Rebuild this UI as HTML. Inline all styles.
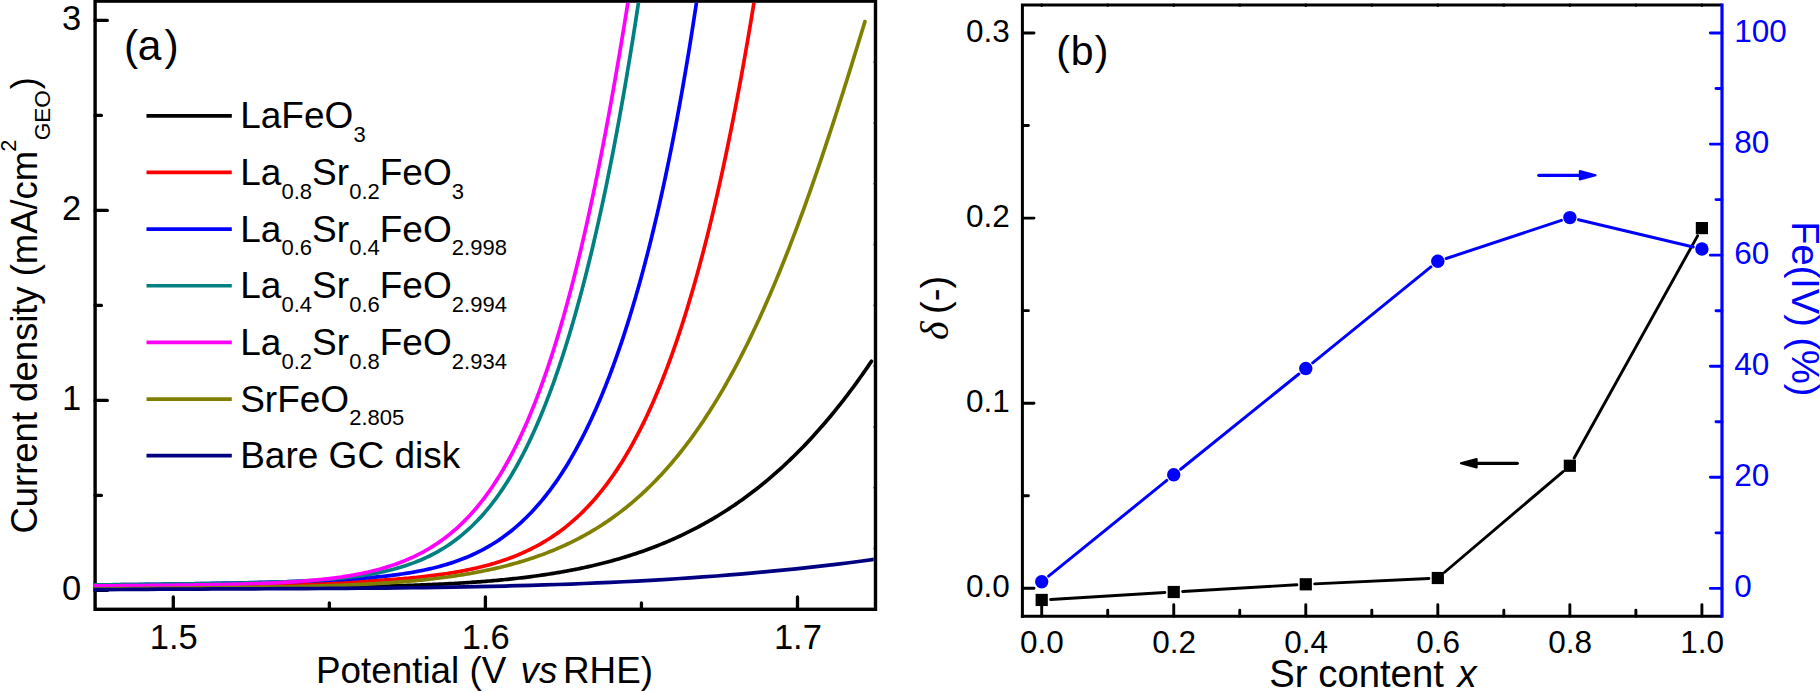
<!DOCTYPE html>
<html lang="en"><head><meta charset="utf-8"><title>Figure</title>
<style>html,body{margin:0;padding:0;background:#fff;overflow:hidden}body{width:1820px;height:692px;position:relative}</style></head>
<body>
<svg width="1820" height="692" viewBox="0 0 1820 692" style="display:block;position:absolute;left:0;top:0">
<rect width="1820" height="692" fill="#fff"/>
<defs><clipPath id="ca"><rect x="93.5" y="2.8" width="780.3" height="604.8"/></clipPath></defs>
<g font-family="'Liberation Sans', sans-serif" fill="#000">
<g stroke="#000" fill="none">
<rect x="95.1" y="1.1" width="780.4" height="608.1999999999999" stroke-width="3.4"/>
<path d="M173.3 609.3v-12.4M485.4 609.3v-12.4M797.5 609.3v-12.4M329.35 609.3v-6.3M641.45 609.3v-6.3M95.1 590.4h12.2M95.1 400.4h12.2M95.1 210.4h12.2M95.1 20.4h12.2M95.1 495.4h6.3M95.1 305.4h6.3M95.1 115.4h6.3" stroke-width="3.3" stroke-linecap="round"/>
<path d="M875.5 62.19h-0.9M875.5 122.98h-0.9M875.5 183.77h-0.9M875.5 244.56h-0.9M875.5 305.35h-0.9M875.5 366.14h-0.9M875.5 426.93h-0.9M875.5 487.72h-0.9M875.5 548.51h-0.9" stroke-width="2.2" stroke-linecap="round"/>
</g>
<g clip-path="url(#ca)" fill="none" stroke-width="3.7" stroke-linejoin="round" stroke-linecap="round">
<path d="M93.5 589.14L95.5 589.12L97.5 589.11L99.5 589.09L101.5 589.08L103.5 589.06L105.5 589.05L107.5 589.03L109.5 589.02L111.5 589L113.5 588.99L115.5 588.97L117.5 588.96L119.5 588.95L121.5 588.93L123.5 588.92L125.5 588.9L127.5 588.89L129.5 588.87L131.5 588.86L133.5 588.84L135.5 588.83L137.5 588.81L139.5 588.8L141.5 588.78L143.5 588.77L145.5 588.75L147.5 588.74L149.5 588.73L151.5 588.71L153.5 588.7L155.5 588.68L157.5 588.67L159.5 588.65L161.5 588.64L163.5 588.62L165.5 588.61L167.5 588.59L169.5 588.58L171.5 588.56L173.5 588.55L175.5 588.53L177.5 588.52L179.5 588.5L181.5 588.49L183.5 588.47L185.5 588.46L187.5 588.44L189.5 588.43L191.5 588.41L193.5 588.4L195.5 588.38L197.5 588.37L199.5 588.35L201.5 588.34L203.5 588.32L205.5 588.31L207.5 588.29L209.5 588.28L211.5 588.26L213.5 588.25L215.5 588.23L217.5 588.21L219.5 588.2L221.5 588.18L223.5 588.17L225.5 588.15L227.5 588.14L229.5 588.12L231.5 588.1L233.5 588.09L235.5 588.07L237.5 588.06L239.5 588.04L241.5 588.02L243.5 588.01L245.5 587.99L247.5 587.97L249.5 587.96L251.5 587.94L253.5 587.92L255.5 587.91L257.5 587.89L259.5 587.87L261.5 587.85L263.5 587.84L265.5 587.82L267.5 587.8L269.5 587.78L271.5 587.76L273.5 587.75L275.5 587.73L277.5 587.71L279.5 587.69L281.5 587.67L283.5 587.65L285.5 587.63L287.5 587.61L289.5 587.59L291.5 587.57L293.5 587.55L295.5 587.53L297.5 587.51L299.5 587.49L301.5 587.46L303.5 587.44L305.5 587.42L307.5 587.4L309.5 587.37L311.5 587.35L313.5 587.33L315.5 587.3L317.5 587.28L319.5 587.25L321.5 587.23L323.5 587.2L325.5 587.18L327.5 587.15L329.5 587.12L331.5 587.09L333.5 587.07L335.5 587.04L337.5 587.01L339.5 586.98L341.5 586.95L343.5 586.92L345.5 586.88L347.5 586.85L349.5 586.82L351.5 586.78L353.5 586.75L355.5 586.71L357.5 586.68L359.5 586.64L361.5 586.6L363.5 586.56L365.5 586.53L367.5 586.49L369.5 586.44L371.5 586.4L373.5 586.36L375.5 586.32L377.5 586.27L379.5 586.22L381.5 586.18L383.5 586.13L385.5 586.08L387.5 586.03L389.5 585.98L391.5 585.92L393.5 585.87L395.5 585.82L397.5 585.76L399.5 585.7L401.5 585.64L403.5 585.58L405.5 585.52L407.5 585.45L409.5 585.39L411.5 585.32L413.5 585.25L415.5 585.18L417.5 585.11L419.5 585.04L421.5 584.96L423.5 584.88L425.5 584.8L427.5 584.72L429.5 584.64L431.5 584.56L433.5 584.47L435.5 584.38L437.5 584.29L439.5 584.19L441.5 584.1L443.5 584L445.5 583.9L447.5 583.8L449.5 583.69L451.5 583.59L453.5 583.48L455.5 583.36L457.5 583.25L459.5 583.13L461.5 583.01L463.5 582.88L465.5 582.76L467.5 582.63L469.5 582.5L471.5 582.36L473.5 582.22L475.5 582.08L477.5 581.94L479.5 581.79L481.5 581.64L483.5 581.48L485.5 581.32L487.5 581.16L489.5 580.99L491.5 580.83L493.5 580.65L495.5 580.48L497.5 580.29L499.5 580.11L501.5 579.92L503.5 579.73L505.5 579.53L507.5 579.33L509.5 579.12L511.5 578.91L513.5 578.7L515.5 578.48L517.5 578.26L519.5 578.03L521.5 577.79L523.5 577.56L525.5 577.31L527.5 577.07L529.5 576.81L531.5 576.55L533.5 576.29L535.5 576.02L537.5 575.75L539.5 575.47L541.5 575.18L543.5 574.89L545.5 574.59L547.5 574.29L549.5 573.98L551.5 573.67L553.5 573.35L555.5 573.02L557.5 572.69L559.5 572.35L561.5 572L563.5 571.65L565.5 571.29L567.5 570.92L569.5 570.55L571.5 570.17L573.5 569.78L575.5 569.39L577.5 568.98L579.5 568.58L581.5 568.16L583.5 567.73L585.5 567.3L587.5 566.86L589.5 566.41L591.5 565.96L593.5 565.5L595.5 565.02L597.5 564.54L599.5 564.05L601.5 563.56L603.5 563.05L605.5 562.54L607.5 562.01L609.5 561.48L611.5 560.94L613.5 560.39L615.5 559.83L617.5 559.26L619.5 558.68L621.5 558.09L623.5 557.49L625.5 556.88L627.5 556.26L629.5 555.64L631.5 555L633.5 554.35L635.5 553.69L637.5 553.02L639.5 552.34L641.5 551.64L643.5 550.94L645.5 550.23L647.5 549.5L649.5 548.76L651.5 548.01L653.5 547.25L655.5 546.48L657.5 545.7L659.5 544.9L661.5 544.1L663.5 543.27L665.5 542.44L667.5 541.6L669.5 540.74L671.5 539.87L673.5 538.98L675.5 538.09L677.5 537.18L679.5 536.25L681.5 535.32L683.5 534.36L685.5 533.4L687.5 532.42L689.5 531.43L691.5 530.42L693.5 529.4L695.5 528.36L697.5 527.31L699.5 526.25L701.5 525.17L703.5 524.07L705.5 522.96L707.5 521.83L709.5 520.69L711.5 519.53L713.5 518.36L715.5 517.17L717.5 515.96L719.5 514.74L721.5 513.5L723.5 512.25L725.5 510.97L727.5 509.68L729.5 508.38L731.5 507.05L733.5 505.71L735.5 504.35L737.5 502.97L739.5 501.58L741.5 500.17L743.5 498.73L745.5 497.28L747.5 495.82L749.5 494.33L751.5 492.82L753.5 491.3L755.5 489.75L757.5 488.19L759.5 486.6L761.5 485L763.5 483.38L765.5 481.73L767.5 480.07L769.5 478.38L771.5 476.68L773.5 474.95L775.5 473.2L777.5 471.43L779.5 469.65L781.5 467.83L783.5 466L785.5 464.15L787.5 462.27L789.5 460.37L791.5 458.45L793.5 456.5L795.5 454.54L797.5 452.55L799.5 450.53L801.5 448.5L803.5 446.44L805.5 444.35L807.5 442.24L809.5 440.11L811.5 437.96L813.5 435.78L815.5 433.57L817.5 431.34L819.5 429.09L821.5 426.81L823.5 424.51L825.5 422.18L827.5 419.82L829.5 417.44L831.5 415.03L833.5 412.6L835.5 410.14L837.5 407.65L839.5 405.14L841.5 402.6L843.5 400.03L845.5 397.44L847.5 394.82L849.5 392.17L851.5 389.5L853.5 386.79L855.5 384.06L857.5 381.3L859.5 378.51L861.5 375.7L863.5 372.85L865.5 369.98L867.5 367.08L869.5 364.14L871.5 361.18" stroke="#000000"/>
<path d="M93.5 587.02L95.5 587.03L97.5 587.03L99.5 587.04L101.5 587.04L103.5 587.04L105.5 587.04L107.5 587.04L109.5 587.03L111.5 587.03L113.5 587.02L115.5 587.01L117.5 587L119.5 586.99L121.5 586.98L123.5 586.96L125.5 586.95L127.5 586.93L129.5 586.92L131.5 586.9L133.5 586.88L135.5 586.87L137.5 586.85L139.5 586.83L141.5 586.81L143.5 586.78L145.5 586.76L147.5 586.74L149.5 586.72L151.5 586.69L153.5 586.67L155.5 586.64L157.5 586.62L159.5 586.59L161.5 586.57L163.5 586.54L165.5 586.51L167.5 586.48L169.5 586.46L171.5 586.43L173.5 586.4L175.5 586.37L177.5 586.34L179.5 586.31L181.5 586.28L183.5 586.25L185.5 586.22L187.5 586.19L189.5 586.15L191.5 586.12L193.5 586.09L195.5 586.06L197.5 586.02L199.5 585.99L201.5 585.95L203.5 585.92L205.5 585.89L207.5 585.85L209.5 585.82L211.5 585.78L213.5 585.74L215.5 585.71L217.5 585.67L219.5 585.63L221.5 585.6L223.5 585.56L225.5 585.52L227.5 585.48L229.5 585.44L231.5 585.4L233.5 585.36L235.5 585.32L237.5 585.28L239.5 585.24L241.5 585.2L243.5 585.16L245.5 585.12L247.5 585.07L249.5 585.03L251.5 584.99L253.5 584.94L255.5 584.9L257.5 584.85L259.5 584.81L261.5 584.76L263.5 584.72L265.5 584.67L267.5 584.62L269.5 584.58L271.5 584.53L273.5 584.48L275.5 584.43L277.5 584.38L279.5 584.33L281.5 584.28L283.5 584.22L285.5 584.17L287.5 584.12L289.5 584.06L291.5 584.01L293.5 583.95L295.5 583.9L297.5 583.84L299.5 583.78L301.5 583.72L303.5 583.66L305.5 583.6L307.5 583.54L309.5 583.48L311.5 583.41L313.5 583.35L315.5 583.28L317.5 583.21L319.5 583.15L321.5 583.08L323.5 583.01L325.5 582.94L327.5 582.86L329.5 582.79L331.5 582.71L333.5 582.64L335.5 582.56L337.5 582.48L339.5 582.4L341.5 582.31L343.5 582.23L345.5 582.14L347.5 582.05L349.5 581.96L351.5 581.87L353.5 581.78L355.5 581.68L357.5 581.58L359.5 581.48L361.5 581.38L363.5 581.28L365.5 581.17L367.5 581.06L369.5 580.95L371.5 580.84L373.5 580.72L375.5 580.6L377.5 580.48L379.5 580.35L381.5 580.22L383.5 580.09L385.5 579.96L387.5 579.82L389.5 579.68L391.5 579.53L393.5 579.39L395.5 579.23L397.5 579.08L399.5 578.92L401.5 578.75L403.5 578.59L405.5 578.41L407.5 578.24L409.5 578.05L411.5 577.87L413.5 577.68L415.5 577.48L417.5 577.28L419.5 577.07L421.5 576.86L423.5 576.64L425.5 576.41L427.5 576.18L429.5 575.94L431.5 575.7L433.5 575.45L435.5 575.19L437.5 574.93L439.5 574.66L441.5 574.38L443.5 574.09L445.5 573.79L447.5 573.49L449.5 573.18L451.5 572.86L453.5 572.52L455.5 572.19L457.5 571.84L459.5 571.48L461.5 571.11L463.5 570.73L465.5 570.34L467.5 569.93L469.5 569.52L471.5 569.09L473.5 568.66L475.5 568.2L477.5 567.74L479.5 567.26L481.5 566.77L483.5 566.27L485.5 565.75L487.5 565.22L489.5 564.67L491.5 564.1L493.5 563.52L495.5 562.93L497.5 562.31L499.5 561.68L501.5 561.03L503.5 560.36L505.5 559.67L507.5 558.96L509.5 558.24L511.5 557.49L513.5 556.72L515.5 555.93L517.5 555.11L519.5 554.28L521.5 553.42L523.5 552.53L525.5 551.62L527.5 550.69L529.5 549.73L531.5 548.74L533.5 547.72L535.5 546.68L537.5 545.61L539.5 544.51L541.5 543.37L543.5 542.21L545.5 541.01L547.5 539.79L549.5 538.52L551.5 537.23L553.5 535.9L555.5 534.53L557.5 533.12L559.5 531.68L561.5 530.2L563.5 528.68L565.5 527.12L567.5 525.52L569.5 523.87L571.5 522.19L573.5 520.45L575.5 518.67L577.5 516.85L579.5 514.98L581.5 513.06L583.5 511.09L585.5 509.07L587.5 506.99L589.5 504.87L591.5 502.69L593.5 500.45L595.5 498.16L597.5 495.81L599.5 493.4L601.5 490.93L603.5 488.4L605.5 485.81L607.5 483.16L609.5 480.43L611.5 477.65L613.5 474.79L615.5 471.87L617.5 468.87L619.5 465.8L621.5 462.66L623.5 459.44L625.5 456.15L627.5 452.78L629.5 449.33L631.5 445.8L633.5 442.19L635.5 438.49L637.5 434.71L639.5 430.84L641.5 426.88L643.5 422.84L645.5 418.7L647.5 414.47L649.5 410.14L651.5 405.71L653.5 401.19L655.5 396.57L657.5 391.84L659.5 387.01L661.5 382.08L663.5 377.04L665.5 371.89L667.5 366.63L669.5 361.25L671.5 355.76L673.5 350.16L675.5 344.44L677.5 338.59L679.5 332.63L681.5 326.53L683.5 320.32L685.5 313.97L687.5 307.5L689.5 300.89L691.5 294.14L693.5 287.26L695.5 280.25L697.5 273.09L699.5 265.78L701.5 258.33L703.5 250.74L705.5 242.99L707.5 235.09L709.5 227.04L711.5 218.83L713.5 210.46L715.5 201.93L717.5 193.23L719.5 184.37L721.5 175.34L723.5 166.13L725.5 156.76L727.5 147.2L729.5 137.46L731.5 127.55L733.5 117.44L735.5 107.15L737.5 96.67L739.5 85.99L741.5 75.12L743.5 64.04L745.5 52.77L747.5 41.28L749.5 29.59L751.5 17.68L753.5 5.56L755.5 -6.78" stroke="#ff0000"/>
<path d="M93.5 584.82L95.5 584.82L97.5 584.83L99.5 584.83L101.5 584.83L103.5 584.82L105.5 584.82L107.5 584.81L109.5 584.8L111.5 584.79L113.5 584.78L115.5 584.77L117.5 584.75L119.5 584.74L121.5 584.72L123.5 584.7L125.5 584.68L127.5 584.67L129.5 584.65L131.5 584.63L133.5 584.6L135.5 584.58L137.5 584.56L139.5 584.54L141.5 584.51L143.5 584.49L145.5 584.46L147.5 584.44L149.5 584.41L151.5 584.39L153.5 584.36L155.5 584.33L157.5 584.3L159.5 584.28L161.5 584.25L163.5 584.22L165.5 584.19L167.5 584.16L169.5 584.13L171.5 584.1L173.5 584.07L175.5 584.04L177.5 584.01L179.5 583.98L181.5 583.95L183.5 583.92L185.5 583.88L187.5 583.85L189.5 583.82L191.5 583.79L193.5 583.75L195.5 583.72L197.5 583.69L199.5 583.65L201.5 583.62L203.5 583.58L205.5 583.55L207.5 583.51L209.5 583.48L211.5 583.44L213.5 583.4L215.5 583.37L217.5 583.33L219.5 583.29L221.5 583.26L223.5 583.22L225.5 583.18L227.5 583.14L229.5 583.1L231.5 583.06L233.5 583.02L235.5 582.98L237.5 582.94L239.5 582.9L241.5 582.86L243.5 582.82L245.5 582.77L247.5 582.73L249.5 582.69L251.5 582.64L253.5 582.6L255.5 582.55L257.5 582.51L259.5 582.46L261.5 582.41L263.5 582.37L265.5 582.32L267.5 582.27L269.5 582.22L271.5 582.17L273.5 582.12L275.5 582.06L277.5 582.01L279.5 581.96L281.5 581.9L283.5 581.84L285.5 581.79L287.5 581.73L289.5 581.67L291.5 581.61L293.5 581.55L295.5 581.48L297.5 581.42L299.5 581.35L301.5 581.29L303.5 581.22L305.5 581.15L307.5 581.08L309.5 581L311.5 580.93L313.5 580.85L315.5 580.77L317.5 580.69L319.5 580.61L321.5 580.53L323.5 580.44L325.5 580.35L327.5 580.26L329.5 580.17L331.5 580.07L333.5 579.97L335.5 579.87L337.5 579.77L339.5 579.66L341.5 579.55L343.5 579.43L345.5 579.32L347.5 579.2L349.5 579.07L351.5 578.95L353.5 578.81L355.5 578.68L357.5 578.54L359.5 578.4L361.5 578.25L363.5 578.09L365.5 577.94L367.5 577.77L369.5 577.61L371.5 577.43L373.5 577.25L375.5 577.07L377.5 576.88L379.5 576.68L381.5 576.48L383.5 576.27L385.5 576.05L387.5 575.83L389.5 575.6L391.5 575.36L393.5 575.11L395.5 574.85L397.5 574.59L399.5 574.32L401.5 574.03L403.5 573.74L405.5 573.44L407.5 573.13L409.5 572.81L411.5 572.47L413.5 572.13L415.5 571.77L417.5 571.41L419.5 571.03L421.5 570.63L423.5 570.23L425.5 569.81L427.5 569.37L429.5 568.92L431.5 568.46L433.5 567.98L435.5 567.48L437.5 566.97L439.5 566.44L441.5 565.9L443.5 565.33L445.5 564.75L447.5 564.14L449.5 563.52L451.5 562.88L453.5 562.22L455.5 561.53L457.5 560.82L459.5 560.09L461.5 559.34L463.5 558.56L465.5 557.76L467.5 556.93L469.5 556.08L471.5 555.2L473.5 554.29L475.5 553.35L477.5 552.38L479.5 551.39L481.5 550.36L483.5 549.3L485.5 548.21L487.5 547.09L489.5 545.93L491.5 544.74L493.5 543.51L495.5 542.24L497.5 540.94L499.5 539.6L501.5 538.22L503.5 536.8L505.5 535.34L507.5 533.84L509.5 532.29L511.5 530.71L513.5 529.07L515.5 527.39L517.5 525.67L519.5 523.89L521.5 522.07L523.5 520.2L525.5 518.27L527.5 516.3L529.5 514.27L531.5 512.19L533.5 510.05L535.5 507.85L537.5 505.6L539.5 503.29L541.5 500.92L543.5 498.49L545.5 496L547.5 493.45L549.5 490.83L551.5 488.14L553.5 485.39L555.5 482.57L557.5 479.68L559.5 476.72L561.5 473.69L563.5 470.59L565.5 467.41L567.5 464.16L569.5 460.83L571.5 457.42L573.5 453.93L575.5 450.36L577.5 446.71L579.5 442.97L581.5 439.15L583.5 435.24L585.5 431.25L587.5 427.16L589.5 422.98L591.5 418.71L593.5 414.35L595.5 409.89L597.5 405.33L599.5 400.67L601.5 395.91L603.5 391.05L605.5 386.08L607.5 381L609.5 375.82L611.5 370.52L613.5 365.12L615.5 359.59L617.5 353.95L619.5 348.2L621.5 342.32L623.5 336.31L625.5 330.18L627.5 323.92L629.5 317.53L631.5 311L633.5 304.34L635.5 297.54L637.5 290.6L639.5 283.51L641.5 276.27L643.5 268.88L645.5 261.33L647.5 253.63L649.5 245.76L651.5 237.73L653.5 229.53L655.5 221.15L657.5 212.59L659.5 203.85L661.5 194.93L663.5 185.81L665.5 176.5L667.5 166.98L669.5 157.25L671.5 147.32L673.5 137.16L675.5 126.78L677.5 116.16L679.5 105.31L681.5 94.22L683.5 82.87L685.5 71.26L687.5 59.39L689.5 47.24L691.5 34.8L693.5 22.08L695.5 9.05L697.5 -4.29" stroke="#0000ff"/>
<path d="M93.5 584.89L95.5 584.87L97.5 584.85L99.5 584.84L101.5 584.82L103.5 584.8L105.5 584.78L107.5 584.77L109.5 584.75L111.5 584.73L113.5 584.71L115.5 584.69L117.5 584.68L119.5 584.66L121.5 584.64L123.5 584.62L125.5 584.6L127.5 584.58L129.5 584.56L131.5 584.54L133.5 584.52L135.5 584.5L137.5 584.48L139.5 584.46L141.5 584.44L143.5 584.42L145.5 584.4L147.5 584.38L149.5 584.35L151.5 584.33L153.5 584.31L155.5 584.29L157.5 584.27L159.5 584.24L161.5 584.22L163.5 584.2L165.5 584.18L167.5 584.15L169.5 584.13L171.5 584.1L173.5 584.08L175.5 584.06L177.5 584.03L179.5 584.01L181.5 583.98L183.5 583.96L185.5 583.93L187.5 583.9L189.5 583.88L191.5 583.85L193.5 583.82L195.5 583.8L197.5 583.77L199.5 583.74L201.5 583.71L203.5 583.68L205.5 583.65L207.5 583.62L209.5 583.59L211.5 583.56L213.5 583.53L215.5 583.5L217.5 583.46L219.5 583.43L221.5 583.4L223.5 583.36L225.5 583.33L227.5 583.29L229.5 583.25L231.5 583.22L233.5 583.18L235.5 583.14L237.5 583.1L239.5 583.06L241.5 583.01L243.5 582.97L245.5 582.93L247.5 582.88L249.5 582.84L251.5 582.79L253.5 582.74L255.5 582.69L257.5 582.64L259.5 582.58L261.5 582.53L263.5 582.48L265.5 582.42L267.5 582.36L269.5 582.3L271.5 582.24L273.5 582.17L275.5 582.11L277.5 582.04L279.5 581.97L281.5 581.9L283.5 581.82L285.5 581.74L287.5 581.66L289.5 581.58L291.5 581.5L293.5 581.41L295.5 581.32L297.5 581.23L299.5 581.13L301.5 581.03L303.5 580.93L305.5 580.82L307.5 580.71L309.5 580.6L311.5 580.48L313.5 580.35L315.5 580.23L317.5 580.1L319.5 579.96L321.5 579.82L323.5 579.67L325.5 579.52L327.5 579.37L329.5 579.2L331.5 579.04L333.5 578.86L335.5 578.68L337.5 578.49L339.5 578.3L341.5 578.1L343.5 577.89L345.5 577.67L347.5 577.45L349.5 577.21L351.5 576.97L353.5 576.72L355.5 576.46L357.5 576.19L359.5 575.91L361.5 575.62L363.5 575.32L365.5 575.01L367.5 574.68L369.5 574.35L371.5 574L373.5 573.64L375.5 573.26L377.5 572.87L379.5 572.47L381.5 572.05L383.5 571.62L385.5 571.17L387.5 570.7L389.5 570.22L391.5 569.72L393.5 569.2L395.5 568.67L397.5 568.11L399.5 567.53L401.5 566.94L403.5 566.32L405.5 565.68L407.5 565.01L409.5 564.33L411.5 563.62L413.5 562.88L415.5 562.12L417.5 561.33L419.5 560.51L421.5 559.67L423.5 558.79L425.5 557.89L427.5 556.95L429.5 555.99L431.5 554.99L433.5 553.95L435.5 552.88L437.5 551.78L439.5 550.64L441.5 549.46L443.5 548.24L445.5 546.99L447.5 545.69L449.5 544.35L451.5 542.96L453.5 541.54L455.5 540.06L457.5 538.54L459.5 536.97L461.5 535.36L463.5 533.69L465.5 531.97L467.5 530.19L469.5 528.37L471.5 526.48L473.5 524.54L475.5 522.55L477.5 520.49L479.5 518.37L481.5 516.19L483.5 513.94L485.5 511.63L487.5 509.25L489.5 506.81L491.5 504.29L493.5 501.7L495.5 499.04L497.5 496.31L499.5 493.5L501.5 490.61L503.5 487.64L505.5 484.59L507.5 481.46L509.5 478.25L511.5 474.95L513.5 471.56L515.5 468.09L517.5 464.52L519.5 460.86L521.5 457.11L523.5 453.26L525.5 449.31L527.5 445.26L529.5 441.12L531.5 436.87L533.5 432.51L535.5 428.05L537.5 423.48L539.5 418.8L541.5 414.01L543.5 409.1L545.5 404.08L547.5 398.94L549.5 393.68L551.5 388.3L553.5 382.8L555.5 377.17L557.5 371.41L559.5 365.52L561.5 359.5L563.5 353.35L565.5 347.06L567.5 340.64L569.5 334.07L571.5 327.36L573.5 320.51L575.5 313.51L577.5 306.36L579.5 299.06L581.5 291.61L583.5 284L585.5 276.23L587.5 268.3L589.5 260.21L591.5 251.95L593.5 243.52L595.5 234.92L597.5 226.15L599.5 217.2L601.5 208.07L603.5 198.76L605.5 189.26L607.5 179.57L609.5 169.69L611.5 159.61L613.5 149.34L615.5 138.86L617.5 128.18L619.5 117.29L621.5 106.18L623.5 94.86L625.5 83.32L627.5 71.54L629.5 59.54L631.5 47.31L633.5 34.84L635.5 22.12L637.5 9.15L639.5 -4.07" stroke="#008080"/>
<path d="M93.5 585.93L95.5 585.92L97.5 585.9L99.5 585.89L101.5 585.87L103.5 585.85L105.5 585.84L107.5 585.82L109.5 585.81L111.5 585.79L113.5 585.78L115.5 585.76L117.5 585.74L119.5 585.73L121.5 585.71L123.5 585.7L125.5 585.68L127.5 585.66L129.5 585.65L131.5 585.63L133.5 585.61L135.5 585.6L137.5 585.58L139.5 585.56L141.5 585.54L143.5 585.53L145.5 585.51L147.5 585.49L149.5 585.47L151.5 585.45L153.5 585.43L155.5 585.42L157.5 585.4L159.5 585.38L161.5 585.36L163.5 585.34L165.5 585.32L167.5 585.3L169.5 585.27L171.5 585.25L173.5 585.23L175.5 585.21L177.5 585.19L179.5 585.16L181.5 585.14L183.5 585.11L185.5 585.09L187.5 585.06L189.5 585.04L191.5 585.01L193.5 584.99L195.5 584.96L197.5 584.93L199.5 584.9L201.5 584.87L203.5 584.84L205.5 584.81L207.5 584.78L209.5 584.74L211.5 584.71L213.5 584.67L215.5 584.64L217.5 584.6L219.5 584.56L221.5 584.52L223.5 584.48L225.5 584.44L227.5 584.4L229.5 584.36L231.5 584.31L233.5 584.26L235.5 584.22L237.5 584.17L239.5 584.11L241.5 584.06L243.5 584.01L245.5 583.95L247.5 583.89L249.5 583.83L251.5 583.77L253.5 583.7L255.5 583.64L257.5 583.57L259.5 583.5L261.5 583.42L263.5 583.35L265.5 583.27L267.5 583.19L269.5 583.1L271.5 583.01L273.5 582.92L275.5 582.83L277.5 582.73L279.5 582.63L281.5 582.53L283.5 582.42L285.5 582.31L287.5 582.2L289.5 582.08L291.5 581.95L293.5 581.83L295.5 581.69L297.5 581.56L299.5 581.42L301.5 581.27L303.5 581.12L305.5 580.96L307.5 580.8L309.5 580.63L311.5 580.46L313.5 580.28L315.5 580.09L317.5 579.9L319.5 579.7L321.5 579.5L323.5 579.28L325.5 579.06L327.5 578.83L329.5 578.6L331.5 578.35L333.5 578.1L335.5 577.84L337.5 577.57L339.5 577.29L341.5 577L343.5 576.7L345.5 576.39L347.5 576.07L349.5 575.74L351.5 575.4L353.5 575.05L355.5 574.68L357.5 574.3L359.5 573.91L361.5 573.51L363.5 573.09L365.5 572.66L367.5 572.22L369.5 571.76L371.5 571.28L373.5 570.79L375.5 570.29L377.5 569.76L379.5 569.22L381.5 568.66L383.5 568.09L385.5 567.49L387.5 566.88L389.5 566.24L391.5 565.59L393.5 564.91L395.5 564.21L397.5 563.49L399.5 562.75L401.5 561.98L403.5 561.19L405.5 560.37L407.5 559.53L409.5 558.66L411.5 557.77L413.5 556.84L415.5 555.89L417.5 554.9L419.5 553.89L421.5 552.84L423.5 551.76L425.5 550.65L427.5 549.51L429.5 548.33L431.5 547.11L433.5 545.86L435.5 544.56L437.5 543.23L439.5 541.86L441.5 540.45L443.5 538.99L445.5 537.49L447.5 535.95L449.5 534.36L451.5 532.72L453.5 531.04L455.5 529.3L457.5 527.51L459.5 525.68L461.5 523.78L463.5 521.84L465.5 519.83L467.5 517.77L469.5 515.65L471.5 513.47L473.5 511.23L475.5 508.92L477.5 506.55L479.5 504.11L481.5 501.6L483.5 499.02L485.5 496.37L487.5 493.65L489.5 490.85L491.5 487.97L493.5 485.02L495.5 481.98L497.5 478.86L499.5 475.66L501.5 472.37L503.5 469L505.5 465.53L507.5 461.97L509.5 458.32L511.5 454.57L513.5 450.73L515.5 446.78L517.5 442.74L519.5 438.59L521.5 434.33L523.5 429.96L525.5 425.49L527.5 420.9L529.5 416.2L531.5 411.38L533.5 406.44L535.5 401.38L537.5 396.2L539.5 390.89L541.5 385.46L543.5 379.89L545.5 374.2L547.5 368.37L549.5 362.4L551.5 356.3L553.5 350.05L555.5 343.66L557.5 337.13L559.5 330.46L561.5 323.63L563.5 316.65L565.5 309.52L567.5 302.24L569.5 294.8L571.5 287.2L573.5 279.44L575.5 271.52L577.5 263.44L579.5 255.19L581.5 246.77L583.5 238.19L585.5 229.44L587.5 220.52L589.5 211.42L591.5 202.15L593.5 192.71L595.5 183.09L597.5 173.3L599.5 163.33L601.5 153.18L603.5 142.86L605.5 132.35L607.5 121.67L609.5 110.81L611.5 99.77L613.5 88.56L615.5 77.16L617.5 65.59L619.5 53.84L621.5 41.92L623.5 29.82L625.5 17.55L627.5 5.11L629.5 -7.5" stroke="#ff00ff"/>
<path d="M93.5 588.91L95.5 588.89L97.5 588.88L99.5 588.86L101.5 588.84L103.5 588.83L105.5 588.81L107.5 588.79L109.5 588.77L111.5 588.76L113.5 588.74L115.5 588.72L117.5 588.7L119.5 588.69L121.5 588.67L123.5 588.65L125.5 588.63L127.5 588.61L129.5 588.6L131.5 588.58L133.5 588.56L135.5 588.54L137.5 588.53L139.5 588.51L141.5 588.49L143.5 588.47L145.5 588.46L147.5 588.44L149.5 588.42L151.5 588.4L153.5 588.38L155.5 588.37L157.5 588.35L159.5 588.33L161.5 588.31L163.5 588.29L165.5 588.27L167.5 588.26L169.5 588.24L171.5 588.22L173.5 588.2L175.5 588.18L177.5 588.16L179.5 588.14L181.5 588.12L183.5 588.1L185.5 588.08L187.5 588.07L189.5 588.05L191.5 588.03L193.5 588.01L195.5 587.99L197.5 587.97L199.5 587.95L201.5 587.92L203.5 587.9L205.5 587.88L207.5 587.86L209.5 587.84L211.5 587.82L213.5 587.8L215.5 587.78L217.5 587.75L219.5 587.73L221.5 587.71L223.5 587.69L225.5 587.66L227.5 587.64L229.5 587.62L231.5 587.59L233.5 587.57L235.5 587.54L237.5 587.52L239.5 587.49L241.5 587.47L243.5 587.44L245.5 587.41L247.5 587.39L249.5 587.36L251.5 587.33L253.5 587.3L255.5 587.27L257.5 587.25L259.5 587.22L261.5 587.18L263.5 587.15L265.5 587.12L267.5 587.09L269.5 587.06L271.5 587.02L273.5 586.99L275.5 586.95L277.5 586.92L279.5 586.88L281.5 586.85L283.5 586.81L285.5 586.77L287.5 586.73L289.5 586.69L291.5 586.65L293.5 586.61L295.5 586.56L297.5 586.52L299.5 586.47L301.5 586.43L303.5 586.38L305.5 586.33L307.5 586.28L309.5 586.23L311.5 586.18L313.5 586.13L315.5 586.07L317.5 586.02L319.5 585.96L321.5 585.9L323.5 585.84L325.5 585.78L327.5 585.71L329.5 585.65L331.5 585.58L333.5 585.52L335.5 585.45L337.5 585.38L339.5 585.3L341.5 585.23L343.5 585.15L345.5 585.07L347.5 584.99L349.5 584.91L351.5 584.82L353.5 584.74L355.5 584.65L357.5 584.56L359.5 584.46L361.5 584.37L363.5 584.27L365.5 584.17L367.5 584.06L369.5 583.96L371.5 583.85L373.5 583.74L375.5 583.62L377.5 583.5L379.5 583.38L381.5 583.26L383.5 583.13L385.5 583L387.5 582.87L389.5 582.74L391.5 582.6L393.5 582.45L395.5 582.31L397.5 582.16L399.5 582L401.5 581.85L403.5 581.69L405.5 581.52L407.5 581.35L409.5 581.18L411.5 581L413.5 580.82L415.5 580.63L417.5 580.44L419.5 580.25L421.5 580.05L423.5 579.84L425.5 579.64L427.5 579.42L429.5 579.2L431.5 578.98L433.5 578.75L435.5 578.51L437.5 578.27L439.5 578.03L441.5 577.78L443.5 577.52L445.5 577.26L447.5 576.99L449.5 576.71L451.5 576.43L453.5 576.14L455.5 575.85L457.5 575.54L459.5 575.24L461.5 574.92L463.5 574.6L465.5 574.27L467.5 573.93L469.5 573.59L471.5 573.24L473.5 572.88L475.5 572.51L477.5 572.14L479.5 571.75L481.5 571.36L483.5 570.96L485.5 570.55L487.5 570.14L489.5 569.71L491.5 569.27L493.5 568.83L495.5 568.37L497.5 567.91L499.5 567.44L501.5 566.95L503.5 566.46L505.5 565.95L507.5 565.44L509.5 564.91L511.5 564.38L513.5 563.83L515.5 563.27L517.5 562.7L519.5 562.12L521.5 561.52L523.5 560.91L525.5 560.3L527.5 559.66L529.5 559.02L531.5 558.36L533.5 557.69L535.5 557.01L537.5 556.31L539.5 555.6L541.5 554.88L543.5 554.14L545.5 553.38L547.5 552.61L549.5 551.83L551.5 551.03L553.5 550.21L555.5 549.38L557.5 548.53L559.5 547.67L561.5 546.79L563.5 545.89L565.5 544.98L567.5 544.04L569.5 543.09L571.5 542.12L573.5 541.14L575.5 540.13L577.5 539.11L579.5 538.06L581.5 537L583.5 535.92L585.5 534.81L587.5 533.69L589.5 532.55L591.5 531.38L593.5 530.19L595.5 528.98L597.5 527.75L599.5 526.5L601.5 525.22L603.5 523.92L605.5 522.59L607.5 521.25L609.5 519.87L611.5 518.48L613.5 517.05L615.5 515.61L617.5 514.13L619.5 512.64L621.5 511.11L623.5 509.56L625.5 507.98L627.5 506.37L629.5 504.73L631.5 503.07L633.5 501.38L635.5 499.65L637.5 497.9L639.5 496.12L641.5 494.31L643.5 492.46L645.5 490.59L647.5 488.68L649.5 486.74L651.5 484.77L653.5 482.77L655.5 480.73L657.5 478.66L659.5 476.55L661.5 474.41L663.5 472.23L665.5 470.02L667.5 467.77L669.5 465.49L671.5 463.17L673.5 460.81L675.5 458.41L677.5 455.98L679.5 453.51L681.5 451L683.5 448.44L685.5 445.85L687.5 443.22L689.5 440.55L691.5 437.83L693.5 435.08L695.5 432.28L697.5 429.44L699.5 426.56L701.5 423.63L703.5 420.66L705.5 417.64L707.5 414.58L709.5 411.48L711.5 408.33L713.5 405.13L715.5 401.89L717.5 398.6L719.5 395.27L721.5 391.88L723.5 388.45L725.5 384.98L727.5 381.45L729.5 377.87L731.5 374.25L733.5 370.57L735.5 366.85L737.5 363.08L739.5 359.25L741.5 355.38L743.5 351.45L745.5 347.48L747.5 343.45L749.5 339.37L751.5 335.24L753.5 331.06L755.5 326.83L757.5 322.54L759.5 318.2L761.5 313.81L763.5 309.37L765.5 304.87L767.5 300.32L769.5 295.72L771.5 291.07L773.5 286.36L775.5 281.6L777.5 276.79L779.5 271.93L781.5 267.01L783.5 262.04L785.5 257.02L787.5 251.95L789.5 246.82L791.5 241.65L793.5 236.42L795.5 231.14L797.5 225.82L799.5 220.44L801.5 215.01L803.5 209.53L805.5 204.01L807.5 198.43L809.5 192.81L811.5 187.14L813.5 181.43L815.5 175.67L817.5 169.86L819.5 164.01L821.5 158.12L823.5 152.18L825.5 146.21L827.5 140.19L829.5 134.13L831.5 128.03L833.5 121.9L835.5 115.73L837.5 109.52L839.5 103.28L841.5 97L843.5 90.7L845.5 84.36L847.5 78L849.5 71.61L851.5 65.19L853.5 58.75L855.5 52.28L857.5 45.79L859.5 39.29L861.5 32.77L863.5 26.23L864.9 21.64" stroke="#808000"/>
<path d="M93.5 589.72L106.75 589.6L120.01 589.49L133.26 589.39L146.52 589.3L159.77 589.22L173.03 589.15L186.28 589.09L199.53 589.03L212.79 588.97L226.04 588.92L239.3 588.87L252.55 588.82L265.81 588.77L279.06 588.71L292.31 588.65L305.57 588.59L318.82 588.52L332.08 588.44L345.33 588.36L358.58 588.26L371.84 588.15L385.09 588.03L398.35 587.89L411.6 587.74L424.86 587.56L438.11 587.37L451.36 587.16L464.62 586.92L477.87 586.66L491.13 586.38L504.38 586.06L517.64 585.72L530.89 585.35L544.14 584.94L557.4 584.51L570.65 584.03L583.91 583.52L597.16 582.97L610.42 582.38L623.67 581.74L636.92 581.07L650.18 580.34L663.43 579.57L676.69 578.75L689.94 577.88L703.19 576.95L716.45 575.97L729.7 574.94L742.96 573.84L756.21 572.68L769.47 571.46L782.72 570.18L795.97 568.83L809.23 567.41L822.48 565.92L835.74 564.36L848.99 562.73L862.25 561.02L875.5 559.23" stroke="#000080"/>
</g>
<g font-size="34.5">
<text x="173.7" y="648.9" text-anchor="middle">1.5</text>
<text x="485.8" y="648.9" text-anchor="middle">1.6</text>
<text x="797.9" y="648.9" text-anchor="middle">1.7</text>
<text x="81.3" y="599.7" text-anchor="end">0</text>
<text x="81.3" y="409.7" text-anchor="end">1</text>
<text x="81.3" y="219.7" text-anchor="end">2</text>
<text x="81.3" y="29.7" text-anchor="end">3</text>
</g>
<text x="124 137.8 164.4" y="59.6" font-size="42.5">(a)</text>
<path d="M146.5 115.8H231.8" stroke="#000000" stroke-width="3.7" fill="none"/>
<text x="240.2" y="128.4" font-size="37">LaFeO<tspan font-size="22" dy="13.6" dx="0.1">3</tspan></text>
<path d="M146.5 172.45H231.8" stroke="#ff0000" stroke-width="3.7" fill="none"/>
<text x="240.2" y="185.05" font-size="37">La<tspan font-size="22" dy="13.6" dx="0.1">0.8</tspan><tspan dy="-13.6">Sr</tspan><tspan font-size="22" dy="13.6" dx="0.1">0.2</tspan><tspan dy="-13.6">FeO</tspan><tspan font-size="22" dy="13.6" dx="0.1">3</tspan></text>
<path d="M146.5 229.1H231.8" stroke="#0000ff" stroke-width="3.7" fill="none"/>
<text x="240.2" y="241.7" font-size="37">La<tspan font-size="22" dy="13.6" dx="0.1">0.6</tspan><tspan dy="-13.6">Sr</tspan><tspan font-size="22" dy="13.6" dx="0.1">0.4</tspan><tspan dy="-13.6">FeO</tspan><tspan font-size="22" dy="13.6" dx="0.1">2.998</tspan></text>
<path d="M146.5 285.75H231.8" stroke="#008080" stroke-width="3.7" fill="none"/>
<text x="240.2" y="298.35" font-size="37">La<tspan font-size="22" dy="13.6" dx="0.1">0.4</tspan><tspan dy="-13.6">Sr</tspan><tspan font-size="22" dy="13.6" dx="0.1">0.6</tspan><tspan dy="-13.6">FeO</tspan><tspan font-size="22" dy="13.6" dx="0.1">2.994</tspan></text>
<path d="M146.5 342.4H231.8" stroke="#ff00ff" stroke-width="3.7" fill="none"/>
<text x="240.2" y="355" font-size="37">La<tspan font-size="22" dy="13.6" dx="0.1">0.2</tspan><tspan dy="-13.6">Sr</tspan><tspan font-size="22" dy="13.6" dx="0.1">0.8</tspan><tspan dy="-13.6">FeO</tspan><tspan font-size="22" dy="13.6" dx="0.1">2.934</tspan></text>
<path d="M146.5 399.05H231.8" stroke="#808000" stroke-width="3.7" fill="none"/>
<text x="240.2" y="411.65" font-size="37">SrFeO<tspan font-size="22" dy="13.6" dx="0.1">2.805</tspan></text>
<path d="M146.5 455.7H231.8" stroke="#000080" stroke-width="3.7" fill="none"/>
<text x="240.2" y="468.3" font-size="37">Bare GC disk</text>
<text transform="translate(36.8 533.5) rotate(-90)" font-size="36.45">Current density (mA/cm<tspan font-size="21.6" dy="-20.4" dx="-0.8">2</tspan><tspan font-size="22.6" dy="33.1" dx="-0.7">GEO</tspan><tspan dy="-12.7" dx="0.8">)</tspan></text>
<text y="683.2" font-size="36.8"><tspan x="316">Potential (V</tspan><tspan x="520.6" font-style="italic">vs</tspan><tspan x="563">RHE)</tspan></text>
<g fill="none">
<path d="M1722.0 4.9V4.9H1022.4V617.7" stroke="#000" stroke-width="3.0" stroke-linejoin="miter"/>
<path d="M1020.9 616.2H1722.0" stroke="#000" stroke-width="3.0"/>
<path d="M1722.0 3.4000000000000004V617.7" stroke="#0000ff" stroke-width="3.2"/>
<path d="M1041.7 616.2v-11.6M1041.7 4.9v0.7M1173.74 616.2v-11.6M1173.74 4.9v0.7M1305.78 616.2v-11.6M1305.78 4.9v0.7M1437.82 616.2v-11.6M1437.82 4.9v0.7M1569.86 616.2v-11.6M1569.86 4.9v0.7M1701.9 616.2v-11.6M1701.9 4.9v0.7M1107.72 616.2v-6M1107.72 4.9v0.5M1239.76 616.2v-6M1239.76 4.9v0.5M1371.8 616.2v-6M1371.8 4.9v0.5M1503.84 616.2v-6M1503.84 4.9v0.5M1635.88 616.2v-6M1635.88 4.9v0.5M1022.4 588.3h11.6M1022.4 403.2h11.6M1022.4 218.1h11.6M1022.4 33h11.6M1022.4 495.75h6M1022.4 310.65h6M1022.4 125.55h6" stroke="#000" stroke-width="2.9" stroke-linecap="round"/>
<path d="M1722.0 588.4h-11.6M1722.0 477.32h-11.6M1722.0 366.24h-11.6M1722.0 255.16h-11.6M1722.0 144.08h-11.6M1722.0 33h-11.6M1722.0 532.86h-6M1722.0 421.78h-6M1722.0 310.7h-6M1722.0 199.62h-6M1722.0 88.54h-6" stroke="#0000ff" stroke-width="2.9" stroke-linecap="round"/>
</g>
<path d="M1050.58 599.43L1164.86 592.54M1182.62 591.48L1296.9 584.82M1314.67 583.88L1428.93 578.43M1444.6 572.24L1563.08 471.53M1574.18 457.98L1697.58 235.88" stroke="#000" stroke-width="2.9" fill="none" stroke-linecap="round"/>
<path d="M1048.62 576.13L1166.82 480.42M1180.67 469.24L1298.85 374.04M1312.69 362.85L1430.91 266.88M1446.27 258.48L1561.41 220.41M1578.52 219.68L1693.24 246.99" stroke="#0000ff" stroke-width="3" fill="none" stroke-linecap="round"/>
<rect x="1035.6" y="593.86" width="12.2" height="12.2" fill="#000"/>
<rect x="1167.64" y="585.9" width="12.2" height="12.2" fill="#000"/>
<rect x="1299.68" y="578.2" width="12.2" height="12.2" fill="#000"/>
<rect x="1431.72" y="571.91" width="12.2" height="12.2" fill="#000"/>
<rect x="1563.76" y="459.66" width="12.2" height="12.2" fill="#000"/>
<rect x="1695.8" y="222" width="12.2" height="12.2" fill="#000"/>
<circle cx="1041.7" cy="581.74" r="6.7" fill="#0000ff"/>
<circle cx="1173.74" cy="474.82" r="6.7" fill="#0000ff"/>
<circle cx="1305.78" cy="368.46" r="6.7" fill="#0000ff"/>
<circle cx="1437.82" cy="261.27" r="6.7" fill="#0000ff"/>
<circle cx="1569.86" cy="217.61" r="6.7" fill="#0000ff"/>
<circle cx="1701.9" cy="249.05" r="6.7" fill="#0000ff"/>
<path d="M1538.8 175.3H1580" stroke="#0000ff" stroke-width="3.2" fill="none" stroke-linecap="round"/><path d="M1595.6 175.3L1579.8 171V179.6Z" fill="#0000ff" stroke="#0000ff" stroke-width="2" stroke-linejoin="round"/>
<path d="M1517.3 463.3H1476" stroke="#000" stroke-width="3.2" fill="none" stroke-linecap="round"/><path d="M1460.9 463.3L1476.7 459V467.6Z" fill="#000" stroke="#000" stroke-width="2" stroke-linejoin="round"/>
<g font-size="31.5">
<text x="1042" y="653" text-anchor="middle">0.0</text>
<text x="1174.04" y="653" text-anchor="middle">0.2</text>
<text x="1306.08" y="653" text-anchor="middle">0.4</text>
<text x="1438.12" y="653" text-anchor="middle">0.6</text>
<text x="1570.16" y="653" text-anchor="middle">0.8</text>
<text x="1702.2" y="653" text-anchor="middle">1.0</text>
<text x="1009.8" y="597.2" text-anchor="end">0.0</text>
<text x="1009.8" y="412.1" text-anchor="end">0.1</text>
<text x="1009.8" y="227" text-anchor="end">0.2</text>
<text x="1009.8" y="41.9" text-anchor="end">0.3</text>
<g fill="#0000ff">
<text x="1734.2" y="597.1">0</text>
<text x="1734.2" y="486.02">20</text>
<text x="1734.2" y="374.94">40</text>
<text x="1734.2" y="263.86">60</text>
<text x="1734.2" y="152.78">80</text>
<text x="1734.2" y="41.7">100</text>
</g></g>
<text x="1056.2" y="64.8" font-size="41" letter-spacing="1">(b)</text>
<text x="1269.3" y="687" font-size="38.3">Sr content <tspan font-style="italic" dx="3">x</tspan></text>
<text transform="translate(947.8 340) rotate(-90)" font-size="38.3"><tspan font-style="italic" font-family="'Liberation Serif', serif" font-size="40">δ</tspan><tspan dx="7.4">(-)</tspan></text>
<text transform="translate(1792 221.3) rotate(90)" font-size="38" fill="#0000ff">Fe(IV) (%)</text>
</g></svg>
</body></html>
